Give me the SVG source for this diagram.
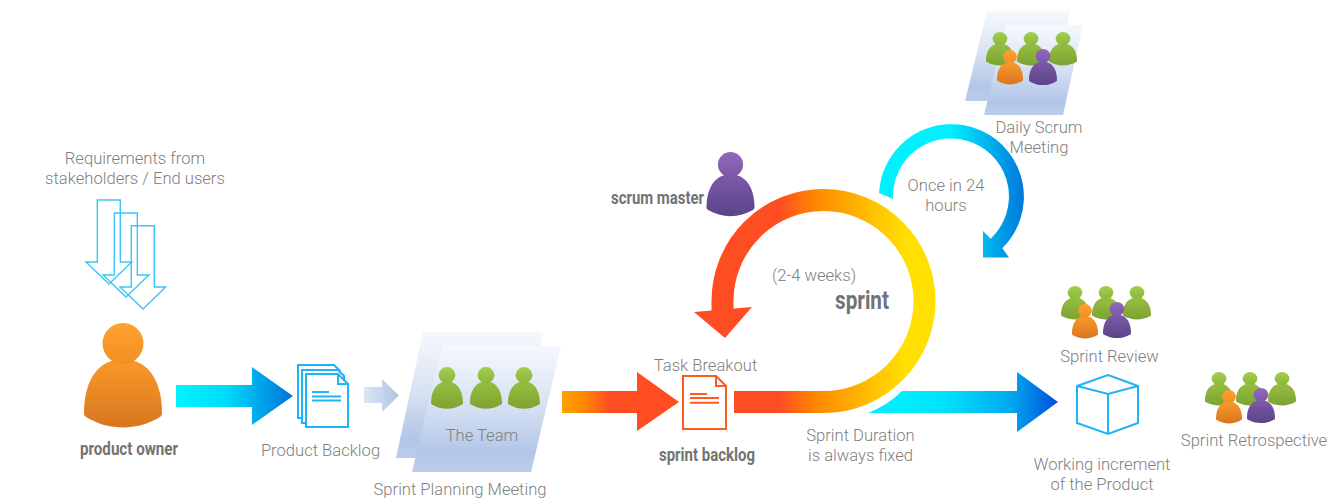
<svg xmlns="http://www.w3.org/2000/svg" width="1333" height="501" viewBox="0 0 1333 501">
<style>
text{font-family:Roboto,"Liberation Sans",sans-serif;font-weight:300;font-size:16.6px;fill:#808080;text-anchor:middle}
text.b{font-weight:700;font-size:17.500px;fill:#737373}
.doc{fill:#fff;stroke-width:2;stroke-linejoin:miter}
.blue{stroke:#1fb4f6}
.org{stroke:#ff5a1f}
.ln{fill:none;stroke-width:2}
.req{fill:none;stroke:#3cc6f5;stroke-width:1.4}
.sheet{fill:url(#gSheet)}
</style>
<defs>
<linearGradient id="gSheet" x1="0" y1="0" x2="0" y2="1"><stop offset="0" stop-color="#f6f8fd"/><stop offset=".45" stop-color="#d9e3f4"/><stop offset=".85" stop-color="#b2c6e8"/><stop offset="1" stop-color="#bccdea"/></linearGradient>
<linearGradient id="oh" x1="0" y1="0" x2="0" y2="1"><stop offset="0" stop-color="#ffa030"/><stop offset="1" stop-color="#f58f22"/></linearGradient>
<linearGradient id="ob" x1="0" y1="0" x2="0" y2="1"><stop offset="0" stop-color="#fa9a2a"/><stop offset="1" stop-color="#d8761f"/></linearGradient>
<linearGradient id="gh" x1="0" y1="0" x2="0" y2="1"><stop offset="0" stop-color="#a5cc50"/><stop offset="1" stop-color="#8cb83a"/></linearGradient>
<linearGradient id="gb" x1="0" y1="0" x2="0" y2="1"><stop offset="0" stop-color="#96c040"/><stop offset="1" stop-color="#7da232"/></linearGradient>
<linearGradient id="ph" x1="0" y1="0" x2="0" y2="1"><stop offset="0" stop-color="#9068bc"/><stop offset="1" stop-color="#7c58a8"/></linearGradient>
<linearGradient id="pb" x1="0" y1="0" x2="0" y2="1"><stop offset="0" stop-color="#7e5aaa"/><stop offset="1" stop-color="#5c4488"/></linearGradient>
<g id="pO"><path d="M-39,90C-39,54-22,36 0,36C22,36 39,54 39,90C39,92 38,93 37,94C14,108-14,108-37,94C-38,93-39,92-39,90Z" fill="url(#ob)"/><circle cy="20.5" r="20.5" fill="url(#oh)"/></g>
<g id="pG"><path d="M-39,90C-39,54-22,36 0,36C22,36 39,54 39,90C39,92 38,93 37,94C14,108-14,108-37,94C-38,93-39,92-39,90Z" fill="url(#gb)"/><circle cy="20.5" r="20.5" fill="url(#gh)"/></g>
<g id="pP"><path d="M-39,90C-39,54-22,36 0,36C22,36 39,54 39,90C39,92 38,93 37,94C14,108-14,108-37,94C-38,93-39,92-39,90Z" fill="url(#pb)"/><circle cy="20.5" r="20.5" fill="url(#ph)"/></g>
<linearGradient id="gA1" gradientUnits="userSpaceOnUse" x1="176" y1="0" x2="293" y2="0"><stop offset="0" stop-color="#00f4ff"/><stop offset=".45" stop-color="#00d8fb"/><stop offset="1" stop-color="#0072da"/></linearGradient>
<linearGradient id="gA2" gradientUnits="userSpaceOnUse" x1="364" y1="0" x2="399" y2="0"><stop offset="0" stop-color="#dce5f4"/><stop offset="1" stop-color="#b0c4e6"/></linearGradient>
<linearGradient id="gA3" gradientUnits="userSpaceOnUse" x1="562" y1="0" x2="610" y2="0"><stop offset="0" stop-color="#ffa000"/><stop offset=".4" stop-color="#ff8c00"/><stop offset="1" stop-color="#ff4d22"/></linearGradient>
<linearGradient id="gLoop" gradientUnits="userSpaceOnUse" x1="780" y1="0" x2="905" y2="0"><stop offset="0" stop-color="#ff4d22"/><stop offset=".3" stop-color="#ff8a00"/><stop offset="1" stop-color="#ffe000"/></linearGradient>
<linearGradient id="gOut" gradientUnits="userSpaceOnUse" x1="900" y1="0" x2="1058" y2="0"><stop offset="0" stop-color="#00eeff"/><stop offset=".3" stop-color="#00e0fc"/><stop offset=".7" stop-color="#00a8f0"/><stop offset="1" stop-color="#0050d8"/></linearGradient>
<linearGradient id="gDaily" gradientUnits="userSpaceOnUse" x1="950" y1="0" x2="1024" y2="0"><stop offset="0" stop-color="#00f0ff"/><stop offset="1" stop-color="#0078dc"/></linearGradient>
</defs>

<g id="connectors">
<path d="M176,385H252V367L293,396L252,425V407H176Z" fill="url(#gA1)"/>
<path d="M364,387H382V379L399,395.500L382,412V403H364Z" fill="url(#gA2)"/>
<path d="M562,391H637V372L679,402L637,431V413H562Z" fill="url(#gA3)"/>
<path d="M734,402H823.500A101,101 0 1 0 722.500,300.700V312" fill="none" stroke="url(#gLoop)" stroke-width="22"/>
<path d="M694,312L752,307L725,338Z" fill="#ff4d22"/>
<path d="M868,413Q888,405 902,391H1017V372L1058,402L1017,432V413Z" fill="url(#gOut)"/>
<path d="M879,193A72.500,72.500 0 1 1 1002.300,248.300L1009,257.500H983V231L990.700,238.700A58,58 0 1 0 893,199Z" fill="url(#gDaily)"/>
</g>

<g id="requirements">
<path class="req" d="M97.300,200H120.300V262H131.700L109,284L86,262H97.300Z"/>
<path class="req" d="M114.300,213H137.300V275H149L126,297L103,275H114.300Z"/>
<path class="req" d="M131.300,225.700H154.300V287H165.700L143,309L120,287H131.300Z"/>
<text x="135" y="164">Requirements from</text>
<text x="135" y="184">stakeholders / End users</text>
</g>

<g id="product-owner">
<use href="#pO" transform="translate(123,323)"/>
<text class="b" x="129" y="455" textLength="98" lengthAdjust="spacingAndGlyphs">product owner</text>
</g>

<g id="product-backlog">
<path class="doc blue" d="M298,365H334L340,371V418H298Z"/>
<path class="doc blue" d="M302,370H338L344,376V423H302Z"/>
<path class="doc blue" d="M306,374H338L348,384V427H306Z"/>
<path class="ln blue" d="M338,374V384H348M312,392H329M312,396.500H341M312,400.500H341"/>
<text x="320.500" y="456">Product Backlog</text>
</g>

<g id="sprint-planning">
<path class="sheet" d="M423,332H543L520,458H396Z"/>
<path class="sheet" d="M442,346H561L531,472H412Z"/>
<use href="#pG" transform="translate(447,367) scale(.41,.4)"/>
<use href="#pG" transform="translate(486,367) scale(.41,.4)"/>
<use href="#pG" transform="translate(524,367) scale(.41,.4)"/>
<text x="482" y="441">The Team</text>
<text x="460" y="495">Sprint Planning Meeting</text>
</g>

<g id="sprint-backlog">
<path class="doc org" d="M683,376H716L726,386V429H683Z"/>
<path class="ln org" d="M716,376V386H726M690,394H707M690,398H719M690,402.700H719"/>
<text x="705.500" y="371">Task Breakout</text>
<text class="b" x="707" y="461" textLength="96" lengthAdjust="spacingAndGlyphs">sprint backlog</text>
</g>

<g id="scrum-master">
<use href="#pP" transform="translate(730.500,152) scale(.615)"/>
<text class="b" x="657.500" y="204" textLength="93" lengthAdjust="spacingAndGlyphs">scrum master</text>
</g>

<g id="sprint">
<text x="814" y="281">(2-4 weeks)</text>
<text class="b" x="862" y="309" style="font-size:25px" textLength="54" lengthAdjust="spacingAndGlyphs">sprint</text>
<text x="860.500" y="441">Sprint Duration</text>
<text x="860.500" y="461">is always fixed</text>
</g>

<g id="daily-scrum">
<path class="sheet" d="M987,11H1070L1050,101H965Z"/>
<path class="sheet" d="M1006,25H1083L1063,115H984Z"/>
<use href="#pG" transform="translate(1000,32) scale(.36,.32)"/>
<use href="#pG" transform="translate(1031,32) scale(.36,.32)"/>
<use href="#pG" transform="translate(1063,32) scale(.36,.32)"/>
<use href="#pO" transform="translate(1010,50) scale(.335,.33)"/>
<use href="#pP" transform="translate(1043,49) scale(.36,.345)"/>
<text x="946" y="191">Once in 24</text>
<text x="946" y="211">hours</text>
<text x="1039" y="133">Daily Scrum</text>
<text x="1039" y="153">Meeting</text>
</g>

<g id="sprint-review">
<use href="#pG" transform="translate(1075,286) scale(.36,.32)"/>
<use href="#pG" transform="translate(1106,286) scale(.36,.32)"/>
<use href="#pG" transform="translate(1137,286) scale(.36,.32)"/>
<use href="#pO" transform="translate(1085,304) scale(.335,.33)"/>
<use href="#pP" transform="translate(1117,302) scale(.36,.345)"/>
<text x="1109.500" y="362">Sprint Review</text>
</g>

<g id="working-increment">
<path class="ln blue" d="M1108,375L1138,386V423L1108,434L1077,423V386ZM1077,386L1108,394L1138,386M1108,394V434"/>
<text x="1102" y="470">Working increment</text>
<text x="1102" y="490">of the Product</text>
</g>

<g id="sprint-retrospective">
<use href="#pG" transform="translate(1219,372) scale(.36,.32)"/>
<use href="#pG" transform="translate(1250,372) scale(.36,.32)"/>
<use href="#pG" transform="translate(1282,372) scale(.36,.32)"/>
<use href="#pO" transform="translate(1229,390) scale(.335,.32)"/>
<use href="#pP" transform="translate(1261,388) scale(.36,.335)"/>
<text x="1254" y="446">Sprint Retrospective</text>
</g>
</svg>
